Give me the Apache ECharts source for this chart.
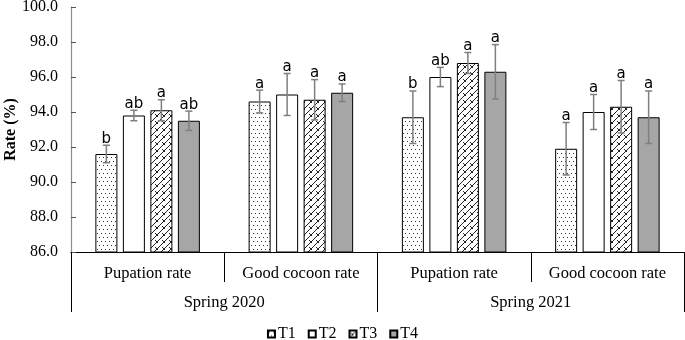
<!DOCTYPE html>
<html>
<head>
<meta charset="utf-8">
<script src="https://cdn.jsdelivr.net/npm/echarts@6/dist/echarts.min.js"></script>
<style>
  html, body { margin: 0; padding: 0; background: #fff; }
  #main { width: 685px; height: 340px; }
</style>
</head>
<body>
<div id="main"></div>
<script>
// categories
const subCats = ['Pupation rate', 'Good cocoon rate', 'Pupation rate', 'Good cocoon rate'];
const seasons = ['Spring 2020', 'Spring 2021'];
const treatments = ['T1', 'T2', 'T3', 'T4'];

// means (%) per category, one array per treatment
const t1Vals = [91.6, 94.6, 93.7, 91.9];
const t2Vals = [93.8, 95.0, 96.0, 94.0];
const t3Vals = [94.1, 94.7, 96.8, 94.3];
const t4Vals = [93.5, 95.1, 96.3, 93.7];

// error (±)
const t1Err = [0.5, 0.65, 1.5, 1.5];
const t2Err = [0.3, 1.2, 0.55, 1.0];
const t3Err = [0.6, 1.15, 0.6, 1.5];
const t4Err = [0.55, 0.5, 1.55, 1.5];

// significance letters
const t1Sig = ['b', 'a', 'b', 'a'];
const t2Sig = ['ab', 'a', 'ab', 'a'];
const t3Sig = ['a', 'a', 'a', 'a'];
const t4Sig = ['ab', 'a', 'a', 'a'];

const yTicks = { min: 86, max: 100, step: 2 };

const allVals = [t1Vals, t2Vals, t3Vals, t4Vals];
const allErr = [t1Err, t2Err, t3Err, t4Err];
const allSig = [t1Sig, t2Sig, t3Sig, t4Sig];

// fill patterns
function dotPattern() {
  const c = document.createElement('canvas');
  c.width = 4; c.height = 8;
  const g = c.getContext('2d');
  g.fillStyle = '#fff'; g.fillRect(0, 0, 4, 8);
  g.fillStyle = '#333';
  g.fillRect(1, 1, 1, 1);
  g.fillRect(3, 5, 1, 1);
  return { image: c, repeat: 'repeat' };
}
function weavePattern() {
  const c = document.createElement('canvas');
  c.width = 7; c.height = 7;
  const g = c.getContext('2d');
  g.fillStyle = '#fff'; g.fillRect(0, 0, 7, 7);
  g.strokeStyle = '#222'; g.lineWidth = 1;
  g.beginPath();
  g.moveTo(0, 7); g.lineTo(7, 0);
  g.moveTo(1, 2); g.lineTo(4, 5);
  g.stroke();
  return { image: c, repeat: 'repeat' };
}
const fills = [dotPattern(), '#fff', weavePattern(), '#a6a6a6'];

const BAR_W = 22;
const BAR_GAP = 0.25;
const SERIF = '"Liberation Serif", "Times New Roman", serif';

const chart = echarts.init(document.getElementById('main'), null, { renderer: 'canvas' });

const barSeries = treatments.map((t, i) => ({
  name: t,
  type: 'bar',
  xAxisIndex: 0,
  barWidth: BAR_W,
  barGap: (BAR_GAP * 100) + '%',
  data: allVals[i],
  itemStyle: { color: fills[i], borderColor: '#000', borderWidth: 1 },
  z: 2
}));

const errData = [];
treatments.forEach((t, i) => {
  allVals[i].forEach((v, c) => {
    errData.push([c, v, allErr[i][c], i, allSig[i][c]]);
  });
});

const errSeries = {
  type: 'custom',
  xAxisIndex: 0,
  z: 5,
  silent: true,
  data: errData,
  renderItem: function (params, api) {
    const c = api.value(0), v = api.value(1), e = api.value(2), ti = api.value(3);
    const letter = errData[params.dataIndex][4];
    const step = BAR_W * (1 + BAR_GAP);
    const dx = (ti - 1.5) * step;
    const hi = api.coord([c, v + e]);
    const lo = api.coord([c, v - e]);
    const x = hi[0] + dx;
    const cap = 3.5;
    const st = { stroke: '#7f7f7f', lineWidth: 1.5 };
    return {
      type: 'group',
      children: [
        { type: 'line', shape: { x1: x, y1: hi[1], x2: x, y2: lo[1] }, style: st },
        { type: 'line', shape: { x1: x - cap, y1: hi[1], x2: x + cap, y2: hi[1] }, style: st },
        { type: 'line', shape: { x1: x - cap, y1: lo[1], x2: x + cap, y2: lo[1] }, style: st },
        {
          type: 'text',
          style: {
            text: letter, x: x, y: hi[1] + 1,
            align: 'center', verticalAlign: 'bottom',
            font: '15px "DejaVu Sans", sans-serif', fill: '#000'
          }
        }
      ]
    };
  }
};

chart.setOption({
  animation: false,
  backgroundColor: '#fff',
  textStyle: { fontFamily: SERIF },
  grid: { left: 71, right: 1, top: 7, bottom: 88, containLabel: false, outerBoundsMode: 'none' },
  legend: {
    top: 321,
    left: 'center',
    itemWidth: 7,
    itemHeight: 7,
    itemGap: 12,
    icon: 'rect',
    textStyle: { fontFamily: SERIF, fontSize: 16, color: '#000', padding: [0, 0, 0, -2] },
    data: treatments
  },
  xAxis: [
    {
      type: 'category',
      data: subCats,
      position: 'bottom',
      axisLine: { lineStyle: { color: '#000', width: 1.2 } },
      axisTick: { show: true, interval: 0, length: 30, lineStyle: { color: '#000' } },
      axisLabel: { interval: 0, margin: 13, fontSize: 16.5, color: '#000', fontFamily: SERIF },
      splitLine: { show: false }
    },
    {
      type: 'category',
      data: seasons,
      position: 'bottom',
      axisLine: { show: false },
      axisTick: { show: true, interval: 0, length: 60, lineStyle: { color: '#000' } },
      axisLabel: { interval: 0, margin: 42, fontSize: 16.5, color: '#000', fontFamily: SERIF },
      splitLine: { show: false }
    }
  ],
  yAxis: {
    type: 'value',
    min: yTicks.min,
    max: yTicks.max,
    interval: yTicks.step,
    name: 'Rate (%)',
    nameLocation: 'middle',
    nameGap: 52,
    nameMoveOverlap: false,
    nameTextStyle: { fontFamily: SERIF, fontSize: 16, fontWeight: 'bold', color: '#000' },
    axisLine: { show: true, lineStyle: { color: '#8c8c8c', width: 1.2 } },
    axisTick: { show: true, inside: true, length: 5, lineStyle: { color: '#555' } },
    axisLabel: { fontSize: 16, color: '#000', margin: 13, fontFamily: SERIF, formatter: v => v.toFixed(1) },
    splitLine: { show: false }
  },
  series: barSeries.concat([errSeries])
});
</script>
</body>
</html>
